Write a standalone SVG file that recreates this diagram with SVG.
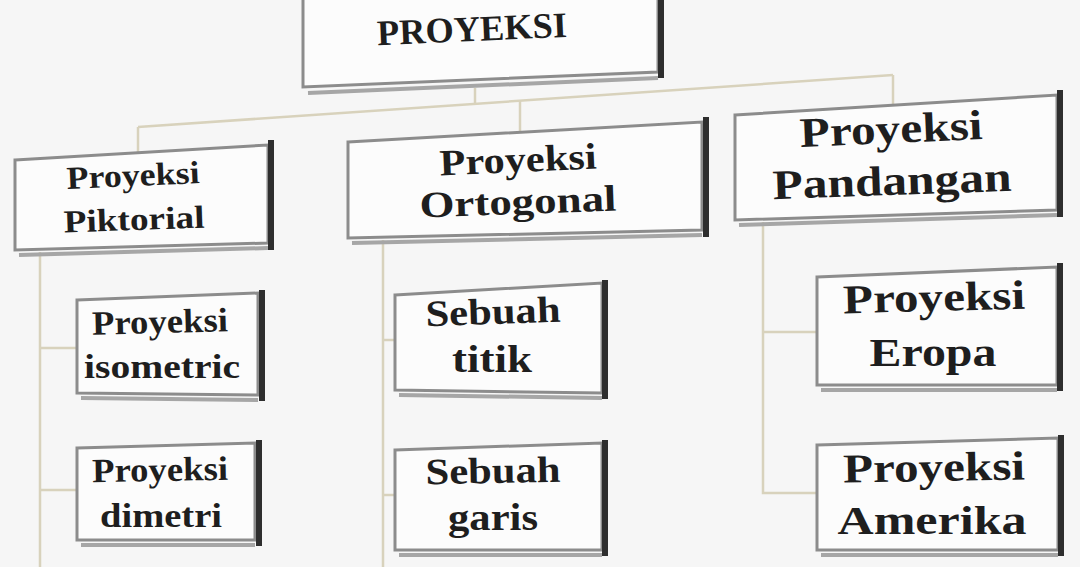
<svg xmlns="http://www.w3.org/2000/svg" width="1080" height="567" viewBox="0 0 1080 567">
<style>
.bg{fill:#f6f6f6}
.box{fill:#fcfcfc;stroke:#8c8c8c;stroke-width:3}
.sh{stroke:#a6a6a6;stroke-width:4;fill:none}
.bar{stroke:#2e2e2e;stroke-width:6;fill:none}
.con{stroke:#d8d2bc;stroke-width:2.5;fill:none}
.t{font-family:"Liberation Serif","DejaVu Serif",serif;font-weight:bold;fill:#1e1e1e;text-anchor:middle}
</style>
<rect class="bg" x="0" y="0" width="1080" height="567"/>
<g id="connectors">
<line class="con" x1="475" y1="88" x2="475" y2="104"/>
<line class="con" x1="138" y1="127" x2="893" y2="75"/>
<line class="con" x1="138" y1="127" x2="138" y2="153"/>
<line class="con" x1="520" y1="101" x2="520" y2="132"/>
<line class="con" x1="893" y1="75" x2="893" y2="105"/>
<line class="con" x1="40" y1="252" x2="40" y2="567"/>
<line class="con" x1="40" y1="348" x2="77" y2="348"/>
<line class="con" x1="40" y1="490" x2="77" y2="490"/>
<line class="con" x1="383" y1="240" x2="383" y2="567"/>
<line class="con" x1="383" y1="340" x2="395" y2="340"/>
<line class="con" x1="383" y1="495" x2="395" y2="495"/>
<polyline class="con" points="763,222 763,493 817,493"/>
<line class="con" x1="763" y1="332" x2="817" y2="332"/>
</g>
<g id="n-proyeksi">
<polygon class="box" points="303,-5 658,-5 658,72 303,87"/>
<line class="sh" x1="308" y1="93" x2="658" y2="78"/>
<line class="bar" x1="661" y1="-5" x2="661" y2="78"/>
<text class="t" x="472" y="41" font-size="36" textLength="190" lengthAdjust="spacingAndGlyphs" transform="rotate(-2.5 472 30)">PROYEKSI</text>
</g>
<g id="n-piktorial">
<polygon class="box" points="15,160 268,145 268,243 15,250"/>
<line class="sh" x1="19" y1="255" x2="268" y2="248"/>
<line class="bar" x1="271" y1="140" x2="271" y2="250"/>
<text class="t" x="133" y="186" font-size="32" textLength="133" lengthAdjust="spacingAndGlyphs" transform="rotate(-2.5 133 175)">Proyeksi</text>
<text class="t" x="134" y="230" font-size="32" textLength="141" lengthAdjust="spacingAndGlyphs" transform="rotate(-2 134 220)">Piktorial</text>
</g>
<g id="n-ortogonal">
<polygon class="box" points="348,142 702,122 702,230 348,238"/>
<line class="sh" x1="352" y1="243" x2="702" y2="235"/>
<line class="bar" x1="706" y1="117" x2="706" y2="237"/>
<text class="t" x="518" y="172" font-size="37" textLength="157" lengthAdjust="spacingAndGlyphs" transform="rotate(-2.5 518 160)">Proyeksi</text>
<text class="t" x="518" y="214" font-size="37" textLength="197" lengthAdjust="spacingAndGlyphs" transform="rotate(-2 518 203)">Ortogonal</text>
</g>
<g id="n-pandangan">
<polygon class="box" points="735,115 1057,95 1057,210 735,220"/>
<line class="sh" x1="739" y1="225" x2="1057" y2="215"/>
<line class="bar" x1="1060" y1="90" x2="1060" y2="217"/>
<text class="t" x="891" y="143" font-size="42" textLength="183" lengthAdjust="spacingAndGlyphs" transform="rotate(-2.5 891 128)">Proyeksi</text>
<text class="t" x="892" y="195" font-size="42" textLength="239" lengthAdjust="spacingAndGlyphs" transform="rotate(-2 892 181)">Pandangan</text>
</g>
<g id="n-isometric">
<polygon class="box" points="77,300 258,293 258,395 77,393"/>
<line class="sh" x1="81" y1="398" x2="258" y2="400"/>
<line class="bar" x1="262" y1="290" x2="262" y2="401"/>
<text class="t" x="160" y="333" font-size="34" textLength="136" lengthAdjust="spacingAndGlyphs" transform="rotate(-1.5 160 322)">Proyeksi</text>
<text class="t" x="162" y="378" font-size="34" textLength="156" lengthAdjust="spacingAndGlyphs">isometric</text>
</g>
<g id="n-dimetri">
<polygon class="box" points="77,448 255,443 255,540 77,540"/>
<line class="sh" x1="81" y1="545" x2="255" y2="545"/>
<line class="bar" x1="259" y1="440" x2="259" y2="546"/>
<text class="t" x="160" y="481" font-size="34" textLength="136" lengthAdjust="spacingAndGlyphs" transform="rotate(-1 160 470)">Proyeksi</text>
<text class="t" x="161" y="527" font-size="34" textLength="122" lengthAdjust="spacingAndGlyphs">dimetri</text>
</g>
<g id="n-titik">
<polygon class="box" points="395,295 602,283 602,393 395,390"/>
<line class="sh" x1="399" y1="395" x2="602" y2="398"/>
<line class="bar" x1="605" y1="280" x2="605" y2="399"/>
<text class="t" x="493" y="324" font-size="37" textLength="135" lengthAdjust="spacingAndGlyphs" transform="rotate(-2 493 313)">Sebuah</text>
<text class="t" x="492" y="372" font-size="37" textLength="80" lengthAdjust="spacingAndGlyphs">titik</text>
</g>
<g id="n-garis">
<polygon class="box" points="395,450 602,443 602,550 395,550"/>
<line class="sh" x1="399" y1="555" x2="602" y2="555"/>
<line class="bar" x1="605" y1="440" x2="605" y2="556"/>
<text class="t" x="493" y="483" font-size="37" textLength="135" lengthAdjust="spacingAndGlyphs" transform="rotate(-1 493 472)">Sebuah</text>
<text class="t" x="493" y="530" font-size="37" textLength="90" lengthAdjust="spacingAndGlyphs">garis</text>
</g>
<g id="n-eropa">
<polygon class="box" points="817,277 1057,267 1057,385 817,385"/>
<line class="sh" x1="821" y1="390" x2="1057" y2="390"/>
<line class="bar" x1="1060" y1="263" x2="1060" y2="391"/>
<text class="t" x="934" y="311" font-size="41" textLength="182" lengthAdjust="spacingAndGlyphs" transform="rotate(-1.5 934 298)">Proyeksi</text>
<text class="t" x="933" y="366" font-size="41" textLength="127" lengthAdjust="spacingAndGlyphs">Eropa</text>
</g>
<g id="n-amerika">
<polygon class="box" points="817,445 1058,438 1058,550 817,550"/>
<line class="sh" x1="821" y1="555" x2="1058" y2="555"/>
<line class="bar" x1="1061" y1="435" x2="1061" y2="556"/>
<text class="t" x="934" y="481" font-size="41" textLength="182" lengthAdjust="spacingAndGlyphs" transform="rotate(-1 934 468)">Proyeksi</text>
<text class="t" x="932" y="534" font-size="41" textLength="189" lengthAdjust="spacingAndGlyphs">Amerika</text>
</g>
</svg>
